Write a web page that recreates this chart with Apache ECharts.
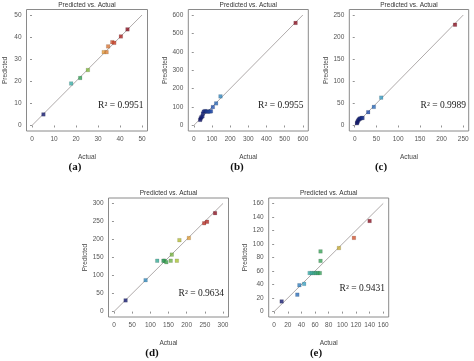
<!DOCTYPE html>
<html><head><meta charset="utf-8">
<script src="https://cdn.jsdelivr.net/npm/echarts@6/dist/echarts.min.js"></script>
<style>html,body{margin:0;padding:0;background:#fff}#c{width:474px;height:361px}</style>
</head><body><div id="c"></div>
<script>
// ---- data ----
const actualA    = [5.2, 17.8, 21.9, 25.4, 32.6, 33.9, 34.6, 36.5, 37.4, 40.4, 43.4];
const predictedA = [5.0, 19.0, 21.5, 25.1, 33.2, 33.2, 35.8, 37.7, 37.4, 40.3, 43.5];
const ticksA = [0, 10, 20, 30, 40, 50];
const r2A = '0.9951';

const actualB    = [35, 38, 42, 48, 50, 55, 62, 70, 78, 88, 95, 105, 123, 147, 560];
const predictedB = [30, 38, 45, 50, 65, 75, 78, 76, 75, 76, 77, 100, 120, 158, 557];
const ticksB = [0, 100, 200, 300, 400, 500, 600];
const r2B = '0.9955';

const actualC    = [5, 6, 7, 9, 11, 13, 16, 18, 31, 44, 61, 231];
const predictedC = [5, 7, 10, 13, 15, 16, 17, 17, 30, 42, 63, 228];
const ticksC = [0, 50, 100, 150, 200, 250];
const r2C = '0.9989';

const actualD    = [32, 87, 119, 136, 139, 144, 156, 159, 173, 180, 206, 248, 256, 278];
const predictedD = [31, 87, 141, 141, 141, 137, 141, 158, 141, 198, 204, 245, 249, 273];
const ticksD = [0, 50, 100, 150, 200, 250, 300];
const r2D = '0.9634';

const actualE    = [11, 34, 37, 44, 52, 55, 58, 61, 64, 67, 68, 68, 95, 117, 140];
const predictedE = [15, 25, 39, 41, 57, 57, 57, 57, 57, 57, 75, 89, 94, 109, 134];
const ticksE = [0, 20, 40, 60, 80, 100, 120, 140, 160];
const r2E = '0.9431';

const panelLabels = ['(a)', '(b)', '(c)', '(d)', '(e)'];
const chartTitle = 'Predicted vs. Actual';
const xName = 'Actual';
const yName = 'Predicted';

// ---- layout ----
const panels = [
  {x: actualA, y: predictedA, ticks: ticksA, r2: r2A, grid: {left: 26.5, top: 9.5, width: 121, height: 121.5}, r2x: 143.5, r2y: 105, lx: 75, ly: 167},
  {x: actualB, y: predictedB, ticks: ticksB, r2: r2B, grid: {left: 188.3, top: 9.5, width: 120, height: 121.5}, r2x: 303.5, r2y: 105.5, lx: 237, ly: 167},
  {x: actualC, y: predictedC, ticks: ticksC, r2: r2C, grid: {left: 349.3, top: 9.5, width: 119.4, height: 121.5}, r2x: 466, r2y: 105.3, lx: 381, ly: 167},
  {x: actualD, y: predictedD, ticks: ticksD, r2: r2D, grid: {left: 108.5, top: 198, width: 120, height: 119}, r2x: 224, r2y: 293.3, lx: 152, ly: 353.5},
  {x: actualE, y: predictedE, ticks: ticksE, r2: r2E, grid: {left: 268.7, top: 198, width: 120, height: 119}, r2x: 385, r2y: 288.3, lx: 316, ly: 353.5}
];

const colorRamp = ['#161b72', '#2456b4', '#3fb3c6', '#2f9f5c', '#a6c232', '#e29a3a', '#c83a2a', '#8a1020'];
const sans = 'Liberation Sans';
const serif = 'Liberation Serif';

const grids = [], xAxes = [], yAxes = [], series = [], visualMaps = [], graphics = [];

panels.forEach((p, i) => {
  const lo = p.ticks[0], hi = p.ticks[p.ticks.length - 1];
  const pad = (hi - lo) * 0.05;
  grids.push(Object.assign({show: true, borderColor: '#8a8a8a', borderWidth: 1, backgroundColor: '#fff'}, p.grid));
  const axisCommon = {
    type: 'value', min: lo - pad, max: hi + pad, gridIndex: i,
    splitLine: {show: false},
    axisLine: {show: false},
    axisTick: {show: true, inside: false, length: 2, lineStyle: {color: '#777', width: 0.8}, customValues: p.ticks},
    axisLabel: {customValues: p.ticks, fontSize: 6.5, color: '#555', fontFamily: sans, margin: 5},
    nameLocation: 'middle',
    nameTextStyle: {fontSize: 6.5, color: '#444', fontFamily: sans}
  };
  xAxes.push(Object.assign({}, axisCommon, {name: xName, nameGap: 22.5}));
  yAxes.push(Object.assign({}, axisCommon, {name: yName, nameGap: 18}));
  series.push({
    type: 'line', xAxisIndex: i, yAxisIndex: i, data: [[lo, lo], [hi, hi]],
    symbol: 'none', silent: true, lineStyle: {color: '#9a9494', width: 0.8}, z: 1
  });
  const sIdx = series.length;
  series.push({
    type: 'scatter', xAxisIndex: i, yAxisIndex: i,
    data: p.x.map((v, k) => [v, p.y[k]]),
    symbol: 'rect', symbolSize: 3.6, z: 3,
    itemStyle: {borderColor: 'rgba(0,0,0,0.35)', borderWidth: 0.4}
  });
  visualMaps.push({
    show: false, type: 'continuous', seriesIndex: sIdx, dimension: 0,
    min: Math.min(...p.x), max: Math.max(...p.x), inRange: {color: colorRamp}
  });
  const cx = p.grid.left + p.grid.width / 2;
  graphics.push({type: 'text', x: cx, y: p.grid.top - 4.5,
    style: {text: chartTitle, fontSize: 6.5, fontFamily: sans, fill: '#333', align: 'center', verticalAlign: 'middle'}});
  graphics.push({type: 'text', x: p.r2x, y: p.r2y,
    style: {text: 'R² = ' + p.r2, fontSize: 9.5, fontFamily: serif, fill: '#222', align: 'right', verticalAlign: 'middle'}});
  graphics.push({type: 'text', x: p.lx, y: p.ly,
    style: {text: panelLabels[i], fontSize: 11, fontWeight: 'bold', fontFamily: serif, fill: '#111', align: 'center', verticalAlign: 'middle'}});
});

const chart = echarts.init(document.getElementById('c'), null, {renderer: 'canvas'});
chart.setOption({
  backgroundColor: '#fff',
  animation: false,
  grid: grids, xAxis: xAxes, yAxis: yAxes,
  visualMap: visualMaps,
  series: series,
  graphic: graphics
});
</script>
</body></html>
